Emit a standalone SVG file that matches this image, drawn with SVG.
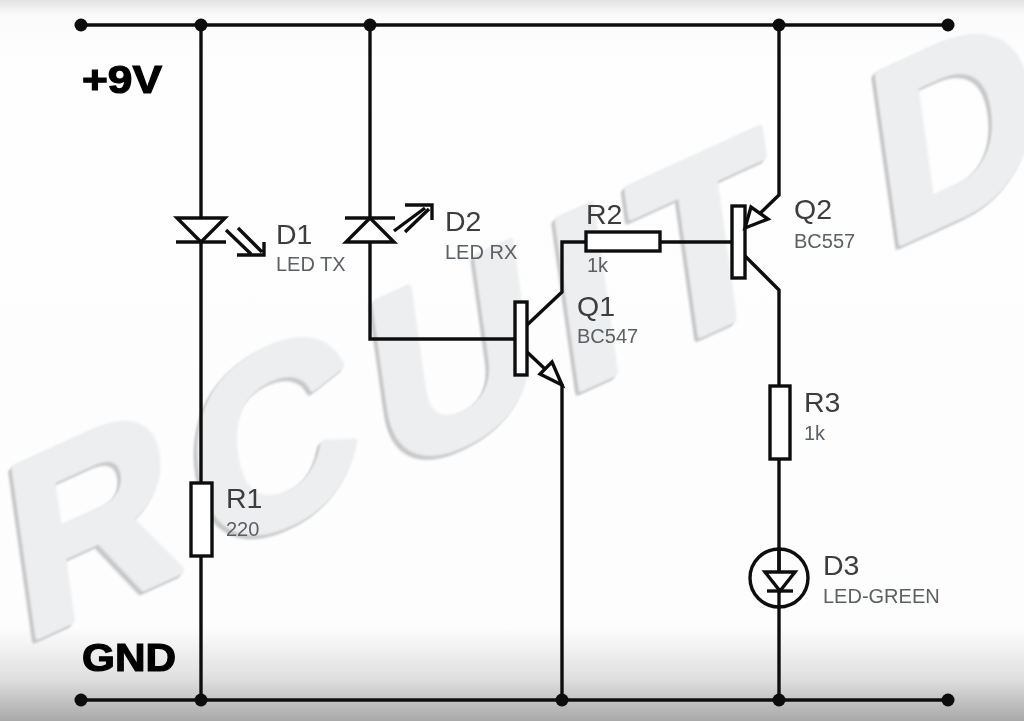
<svg xmlns="http://www.w3.org/2000/svg" width="1024" height="721" viewBox="0 0 1024 721">
<defs>
<linearGradient id="bg" x1="0" y1="0" x2="0" y2="1">
<stop offset="0" stop-color="#e2e2e2"/><stop offset="0.02" stop-color="#fafafa"/><stop offset="0.08" stop-color="#fefefe"/><stop offset="0.87" stop-color="#fdfdfd"/><stop offset="0.94" stop-color="#e0e0e0"/><stop offset="1" stop-color="#a9a9a9"/>
</linearGradient>
<filter id="soft" x="-5%" y="-5%" width="110%" height="110%"><feGaussianBlur stdDeviation="0.6"/></filter>
<filter id="softer" x="-5%" y="-5%" width="110%" height="110%"><feGaussianBlur stdDeviation="1"/></filter>
</defs>
<style>
.w{fill:none;stroke:#111;stroke-width:3.4;stroke-linejoin:miter;stroke-linecap:butt}
.b{fill:#fff;stroke:#111;stroke-width:3.4}
.dot{fill:#0c0c0c}
text{font-family:"Liberation Sans",Arial,sans-serif}
.n{font-size:28.5px;fill:#3c3c3c}
.v{font-size:20px;fill:#5c6064}
.h{font-size:39px;font-weight:bold;fill:#050505;stroke:#050505;stroke-width:1.2}
.wm{font-size:245px;font-weight:bold;letter-spacing:22px;stroke-width:8px;stroke-linejoin:round}
</style>
<rect id="background" width="1024" height="721" fill="url(#bg)"/>
<g id="watermark">
<text class="wm" transform="matrix(.91 -.415 .14 .99 24 642)" x="-4" y="2" fill="#c6c6c8" stroke="#c6c6c8" filter="url(#softer)">RCUIT D</text>
<text class="wm" transform="matrix(.91 -.415 .14 .99 24 642)" fill="#edeef0" stroke="#edeef0" filter="url(#softer)">RCUIT D</text>
</g>
<g filter="url(#soft)">
<g id="connectors">
<path class="w" d="M81 25H948M81 700H948"/>
<path class="w" d="M201 25V218M201 242V483M201 556V700"/>
<path class="w" d="M370 25V218M370 242V339H515"/>
<path class="w" d="M527 325L562 292V242H586M660 242H732"/>
<path class="w" d="M527 352L562 385V700"/>
<path class="w" d="M779 25V195L745 228M745 256L779 290V386M779 459V700"/>
</g>
<g id="rails">
<circle class="dot" cx="81" cy="25" r="6.5"/><circle class="dot" cx="201" cy="25" r="6.5"/><circle class="dot" cx="370" cy="25" r="6.5"/><circle class="dot" cx="779" cy="25" r="6.5"/><circle class="dot" cx="948" cy="25" r="6.5"/>
<circle class="dot" cx="81" cy="700" r="6.5"/><circle class="dot" cx="201" cy="700" r="6.5"/><circle class="dot" cx="562" cy="700" r="6.5"/><circle class="dot" cx="779" cy="700" r="6.5"/><circle class="dot" cx="948" cy="700" r="6.5"/>
<text class="h" x="82" y="93" textLength="80" lengthAdjust="spacingAndGlyphs">+9V</text>
<text class="h" x="82" y="671" textLength="94" lengthAdjust="spacingAndGlyphs">GND</text>
</g>
<g id="D1">
<path class="b" d="M177 218H225L201 242Z"/><path class="w" d="M176 242H226"/>
<path class="w" d="M226 230L251 254M238 228L262 252M237 255H264V242"/>
<text class="n" x="276" y="244">D1</text><text class="v" x="276" y="271">LED TX</text>
</g>
<g id="D2">
<path class="b" d="M346 242H394L370 218Z"/><path class="w" d="M345 218H395"/>
<path class="w" d="M394 231L425 208M405 232L429 209M405 205H432V220"/>
<text class="n" x="445" y="231">D2</text><text class="v" x="445" y="259">LED RX</text>
</g>
<g id="R1">
<rect class="b" x="191" y="483" width="21" height="73"/>
<text class="n" x="226" y="508">R1</text><text class="v" x="226" y="536">220</text>
</g>
<g id="R2">
<rect class="b" x="586" y="232" width="74" height="19"/>
<text class="n" x="586" y="224">R2</text><text class="v" x="587" y="272">1k</text>
</g>
<g id="R3">
<rect class="b" x="770" y="386" width="20" height="73"/>
<text class="n" x="804" y="412">R3</text><text class="v" x="804" y="440">1k</text>
</g>
<g id="Q1">
<rect class="b" x="515" y="302" width="12" height="73"/>
<path class="b" d="M562 385L540 374L552 362Z"/>
<text class="n" x="577" y="316">Q1</text><text class="v" x="577" y="343">BC547</text>
</g>
<g id="Q2">
<rect class="b" x="732" y="206" width="13" height="72"/>
<path class="b" d="M745 228L751 207L768 219Z"/>
<text class="n" x="794" y="219">Q2</text><text class="v" x="794" y="248">BC557</text>
</g>
<g id="D3">
<circle class="w" cx="779" cy="578" r="29"/>
<path class="b" d="M765 572H795L780 591Z"/><path class="w" d="M767 591H793"/>
<path class="w" d="M779 549V572"/>
<text class="n" x="823" y="575">D3</text><text class="v" x="823" y="603">LED-GREEN</text>
</g>
</g>
</svg>
